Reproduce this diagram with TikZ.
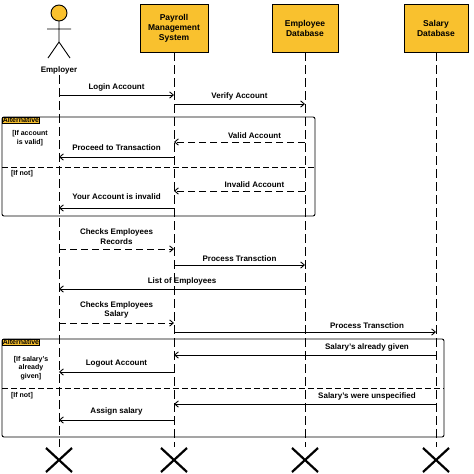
\documentclass[tikz,border=0pt]{standalone}
\usepackage{fontspec}
\setmainfont{Liberation Sans}
\usetikzlibrary{arrows.meta}
\definecolor{umlyellow}{HTML}{F9C12E}
\tikzset{%
  >={Straight Barb[width=2.2mm,length=1.3mm]},
     base/.style = {rectangle, draw=black, line width=0.9pt, fill=umlyellow,
                    text centered, font=\bfseries\fontsize{8.5}{10}\selectfont, align=center},
     head/.style = {base, minimum height=48pt},
     life/.style = {dash pattern=on 9pt off 4pt, line width=0.9pt},
      msg/.style = {->, line width=0.9pt},
    reply/.style = {msg, dash pattern=on 7pt off 4pt},
      lbl/.style = {font=\bfseries\fontsize{8}{9.5}\selectfont, align=center, inner sep=1pt},
    frame/.style = {draw=black, line width=0.9pt, rounded corners=2pt},
      tag/.style = {fill=umlyellow, draw=black, line width=0.6pt, inner sep=0.6pt,
                    font=\bfseries\fontsize{7}{7.5}\selectfont},
    guard/.style = {font=\bfseries\fontsize{7}{8.5}\selectfont, align=center, inner sep=0pt},
     kill/.style = {line width=2.2pt},
}
\begin{document}
\begin{tikzpicture}[x=1pt, y=-1pt]
  \useasboundingbox (0,0) rectangle (474,474);

  % participants
  \node (pms) [head, minimum width=68pt]  at (174,28) {Payroll\\Management\\System};
  \node (edb) [head, minimum width=66pt]  at (305,28) {Employee\\Database};
  \node (sdb) [head, minimum width=64pt]  at (436,28) {Salary\\Database};

  % actor
  \draw[line width=0.9pt, fill=umlyellow] (59,13) circle (8pt);
  \draw[line width=0.9pt] (59,21) -- (59,42) (47,29) -- (71,29) (48,58) -- (59,42) -- (70,58);
  \node (emp) [lbl] at (59,70) {Employer};

  % lifelines
  \coordinate (end) at (0,447);
  \draw[life] (emp.south) -- (emp|-end);
  \draw[life] (pms.south) -- (pms|-end);
  \draw[life] (edb.south) -- (edb|-end);
  \draw[life] (sdb.south) -- (sdb|-end);

  % alternative frames
  \draw[frame] (2,117) rectangle (315,216);
  \draw[dash pattern=on 6pt off 3pt, line width=0.9pt] (2,167) -- (315,167);
  \node (alt1) [tag, anchor=north west] at (2,117) {Alternative};
  \node (g1) [guard] at (30,138) {[If account\\is valid]};
  \node (g2) [guard] at (22,174) {[If not]};

  \draw[frame] (2,339) rectangle (444,437);
  \draw[dash pattern=on 6pt off 3pt, line width=0.9pt] (2,388) -- (444,388);
  \node (alt2) [tag, anchor=north west] at (2,339) {Alternative};
  \node (g3) [guard] at (31,368) {[If salary's\\already\\given]};
  \node (g4) [guard] at (22,396) {[If not]};

  % messages
  \foreach \n/\y in {1/95,2/104,3/142,4/157,5/191,6/208,7/249,8/265,9/289,10/323,11/332,12/355,13/372,14/404,15/420}
    \coordinate (m\n) at (0,\y);

  \draw[msg]   (emp|-m1)  -- node[lbl, above=2pt] {Login Account} (pms|-m1);
  \draw[msg]   (pms|-m2)  -- node[lbl, above=2pt] {Verify Account} (edb|-m2);
  \draw[reply] (edb|-m3)  -- node[lbl, above=2pt, xshift=15pt] {Valid Account} (pms|-m3);
  \draw[msg]   (pms|-m4)  -- node[lbl, above=5pt] {Proceed to Transaction} (emp|-m4);
  \draw[reply] (edb|-m5)  -- node[lbl, above=2pt, xshift=15pt] {Invalid Account} (pms|-m5);
  \draw[msg]   (pms|-m6)  -- node[lbl, above=7pt] {Your Account is invalid} (emp|-m6);
  \draw[reply] (emp|-m7)  -- node[lbl, above=3pt] {Checks Employees\\Records} (pms|-m7);
  \draw[msg]   (pms|-m8)  -- node[lbl, above=2pt] {Process Transction} (edb|-m8);
  \draw[msg]   (edb|-m9)  -- node[lbl, above=2pt] {List of Employees} (emp|-m9);
  \draw[reply] (emp|-m10) -- node[lbl, above=3pt] {Checks Employees\\Salary} (pms|-m10);
  \draw[msg]   (pms|-m11) -- node[lbl, above=2pt, xshift=62pt] {Process Transction} (sdb|-m11);
  \draw[msg]   (sdb|-m12) -- node[lbl, above=2pt, xshift=62pt] {Salary's already given} (pms|-m12);
  \draw[msg]   (pms|-m13) -- node[lbl, above=3pt] {Logout Account} (emp|-m13);
  \draw[msg]   (sdb|-m14) -- node[lbl, above=2pt, xshift=62pt] {Salary's were unspecified} (pms|-m14);
  \draw[msg]   (pms|-m15) -- node[lbl, above=3pt] {Assign salary} (emp|-m15);

  % destruction
  \foreach \p in {emp,pms,edb,sdb}
    \draw[kill] ([shift={(-13pt,-12pt)}]\p|-0,460) -- ([shift={(13pt,12pt)}]\p|-0,460)
                ([shift={(-13pt,12pt)}]\p|-0,460) -- ([shift={(13pt,-12pt)}]\p|-0,460);
\end{tikzpicture}
\end{document}
